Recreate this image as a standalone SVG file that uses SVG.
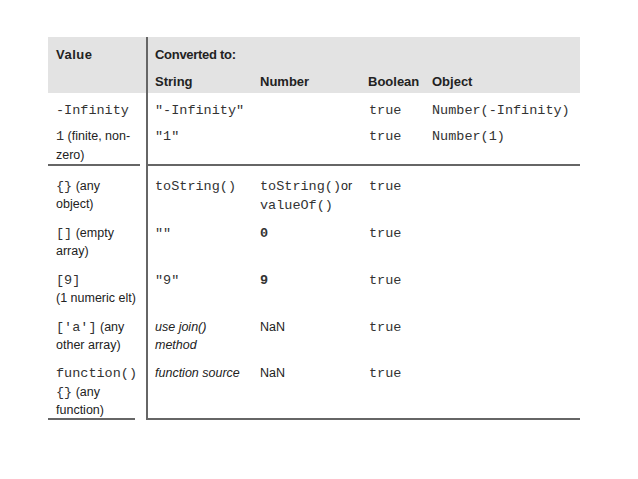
<svg xmlns="http://www.w3.org/2000/svg" width="638" height="479" viewBox="0 0 638 479">
<style>
.s{font-family:"Liberation Sans",Arial,sans-serif;font-size:12.5px;fill:#222}
.b{font-weight:bold;font-size:13px}
.m{font-family:"Liberation Mono","DejaVu Sans Mono",monospace;font-size:13.5px;fill:#333}
.i{font-style:italic}
.l{stroke:#666;stroke-width:2;fill:none}
</style>
<rect width="638" height="479" fill="#fff"/>
<rect x="48" y="37" width="532" height="56" fill="#e3e3e3"/>
<g id="lines">
<line class="l" x1="147" y1="37" x2="147" y2="420"/>
<line class="l" x1="48" y1="165" x2="140" y2="165"/>
<line class="l" x1="147" y1="165" x2="580" y2="165"/>
<line class="l" x1="48" y1="419" x2="135" y2="419"/>
<line class="l" x1="147" y1="419" x2="580" y2="419"/>
</g>
<g id="header">
<text class="s b" x="56" y="59" textLength="36">Value</text>
<text class="s b" x="155" y="59" textLength="81">Converted to:</text>
<text class="s b" x="155" y="86">String</text>
<text class="s b" x="260" y="86">Number</text>
<text class="s b" x="368" y="86">Boolean</text>
<text class="s b" x="432" y="86">Object</text>
</g>
<g id="r1">
<text class="m" x="56" y="114">-Infinity</text>
<text class="m" x="155" y="114">"-Infinity"</text>
<text class="m" x="369" y="114">true</text>
<text class="m" x="432" y="114">Number(-Infinity)</text>
</g>
<g id="r2">
<text class="s" x="56" y="140"><tspan class="m">1</tspan> (finite, non-</text>
<text class="s" x="56" y="159">zero)</text>
<text class="m" x="155" y="140">"1"</text>
<text class="m" x="369" y="140">true</text>
<text class="m" x="432" y="140">Number(1)</text>
</g>
<g id="r3">
<text class="s" x="56" y="190"><tspan class="m">{}</tspan> (any</text>
<text class="s" x="56" y="208">object)</text>
<text class="m" x="155" y="190">toString()</text>
<text class="m" x="260" y="190">toString()<tspan class="s">or</tspan></text>
<text class="m" x="260" y="209">valueOf()</text>
<text class="m" x="369" y="190">true</text>
</g>
<g id="r4">
<text class="s" x="56" y="237"><tspan class="m">[]</tspan> (empty</text>
<text class="s" x="56" y="255">array)</text>
<text class="m" x="155" y="237">""</text>
<text class="m" x="260" y="237" font-weight="bold">0</text>
<text class="m" x="369" y="237">true</text>
</g>
<g id="r5">
<text class="m" x="56" y="284">[9]</text>
<text class="s" x="56" y="302">(1 numeric elt)</text>
<text class="m" x="155" y="284">"9"</text>
<text class="m" x="260" y="284" font-weight="bold">9</text>
<text class="m" x="369" y="284">true</text>
</g>
<g id="r6">
<text class="s" x="56" y="331"><tspan class="m">['a']</tspan> (any</text>
<text class="s" x="56" y="349">other array)</text>
<text class="s i" x="155" y="331">use join()</text>
<text class="s i" x="155" y="349">method</text>
<text class="s" x="260" y="331">NaN</text>
<text class="m" x="369" y="331">true</text>
</g>
<g id="r7">
<text class="m" x="56" y="377">function()</text>
<text class="s" x="56" y="396"><tspan class="m">{}</tspan> (any</text>
<text class="s" x="56" y="414">function)</text>
<text class="s i" x="155" y="377">function source</text>
<text class="s" x="260" y="377">NaN</text>
<text class="m" x="369" y="377">true</text>
</g>
</svg>
